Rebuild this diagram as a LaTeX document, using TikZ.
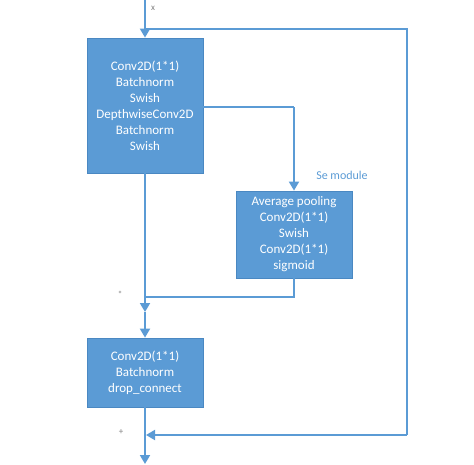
\documentclass[tikz,border=0pt]{standalone}
\usepackage{fontspec}
\setmainfont{Carlito}
\usetikzlibrary{arrows.meta}
\definecolor{boxblue}{HTML}{5B9BD5}
\definecolor{boxedge}{HTML}{4A88C2}
\definecolor{lbl}{HTML}{7F7F7F}
\begin{document}
\begin{tikzpicture}[x=1pt,y=-1pt,
  blk/.style={draw=boxedge,fill=boxblue,line width=0.8pt,text=white,align=center,
    font=\fontsize{13}{16}\selectfont,inner sep=0pt},
  conn/.style={draw=boxblue,line width=1.9pt},
  arr/.style={conn,-{Triangle[length=9pt,width=10pt]}},
  small/.style={text=lbl,font=\fontsize{9}{10}\selectfont}]
\useasboundingbox (0,0) rectangle (474,464);
\node[blk,minimum width=116pt,minimum height=135pt] (b1) at (145,105.5)
  {Conv2D(1*1)\\Batchnorm\\Swish\\DepthwiseConv2D\\Batchnorm\\Swish};
\node[blk,minimum width=116pt,minimum height=87pt] (b2) at (294,234.5)
  {Average pooling\\Conv2D(1*1)\\Swish\\Conv2D(1*1)\\sigmoid};
\node[blk,minimum width=116pt,minimum height=69pt] (b3) at (145,372.5)
  {Conv2D(1*1)\\Batchnorm\\drop\_connect};
\coordinate (top) at (145,0);
\coordinate (split) at (145,29);
\coordinate (fr1) at (407,29);
\coordinate (fr2) at (407,435);
\coordinate (addin) at (146,435);
\coordinate (semid) at (294,107);
\coordinate (mulr) at (294,297);
\coordinate (mull) at (145,297);
\coordinate (mulo) at (145,312);
\coordinate (addo) at (145,464);
\draw[arr] (top) -- (b1.north);
\draw[conn] (split) -- (fr1) -- (fr2);
\draw[arr] (fr2) -- (addin);
\draw[conn] (b1.east |- semid) -- (semid);
\draw[arr] (semid) -- (b2.north);
\draw[conn] (b2.south) -- (mulr) -- (mull);
\draw[arr] (b1.south) -- (mulo);
\draw[arr] (mulo) -- (b3.north);
\draw[arr] (b3.south) -- (addo);
\node[small] (lx) at (153,8) {x};
\node[small] (lm) at (120,294) {*};
\node[small] (lp) at (121,432) {+};
\node[text=boxblue,font=\fontsize{12}{14}\selectfont] (lse) at (342,175) {Se module};
\end{tikzpicture}
\end{document}
